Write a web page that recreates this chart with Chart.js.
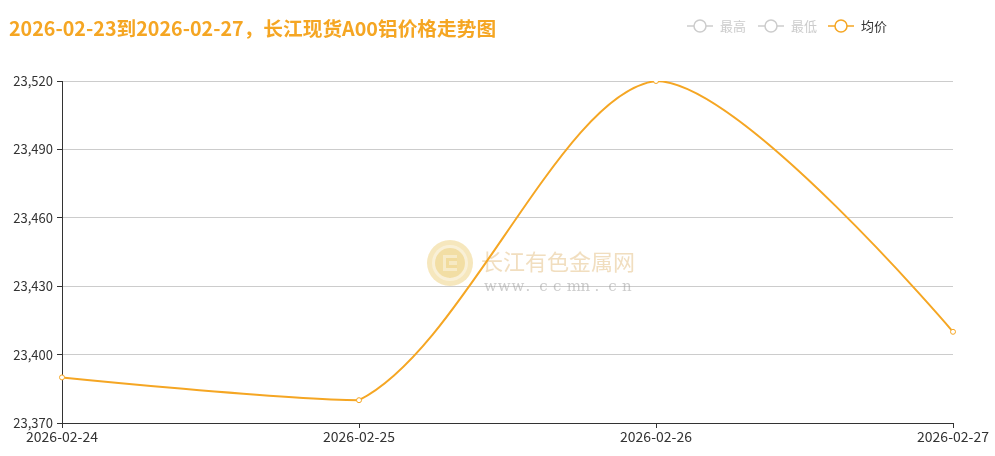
<!DOCTYPE html>
<html><head><meta charset="utf-8">
<script src="https://cdn.jsdelivr.net/npm/chart.js@4/dist/chart.umd.min.js"></script>
<style>html,body{margin:0;padding:0;background:#fff}#w{width:995px;height:456px}</style>
</head><body><div id="w"><canvas id="c" width="995" height="456"></canvas></div>
<script>
const titleText = '2026-02-23到2026-02-27，长江现货A00铝价格走势图';
const categories = ['2026-02-24','2026-02-25','2026-02-26','2026-02-27'];
const avgPrice = [23390, 23380, 23520, 23410];
const legendNames = ['最高','最低','均价'];
const legendActive = [false, false, true];
const yMin = 23370, yMax = 23520, yStep = 30;

const ORANGE = '#f5a623';
const FONT = '"Noto Sans CJK SC","Noto Sans",sans-serif';

// smoothing: control points clamped to the points' bounding box
const smoothPlugin = {
  id: 'smoothClamp',
  beforeDatasetDraw(chart, args) {
    const meta = args.meta;
    const line = meta.dataset;
    if (!line) return;
    line.updateControlPoints(chart.chartArea, 'x');
    const pts = meta.data;
    const n = pts.length;
    const xs = pts.map(p => p.x), ys = pts.map(p => p.y);
    const minX = Math.min(...xs), maxX = Math.max(...xs);
    const minY = Math.min(...ys), maxY = Math.max(...ys);
    const clamp = (v, a, b) => Math.max(a, Math.min(b, v));
    const s = 0.3;
    for (let i = 0; i < n; i++) {
      const p = pts[i];
      if (i === 0 || i === n - 1) {
        p.cp1x = p.x; p.cp1y = p.y; p.cp2x = p.x; p.cp2y = p.y;
        continue;
      }
      const a = pts[i - 1], b = pts[i + 1];
      const vx = (b.x - a.x) * s, vy = (b.y - a.y) * s;
      let d0 = Math.hypot(p.x - a.x, p.y - a.y), d1 = Math.hypot(p.x - b.x, p.y - b.y);
      const sum = d0 + d1; d0 /= sum; d1 /= sum;
      p.cp1x = clamp(p.x - vx * d0, minX, maxX);
      p.cp1y = clamp(p.y - vy * d0, minY, maxY);
      p.cp2x = clamp(p.x + vx * d1, minX, maxX);
      p.cp2y = clamp(p.y + vy * d1, minY, maxY);
    }
  }
};

const deco = {
  id: 'deco',
  beforeDatasetsDraw(chart) {
    const ctx = chart.ctx;
    ctx.save();
    const cx = 450, cy = 263;
    ctx.globalAlpha = 0.4;
    ctx.fillStyle = '#e8c25a';
    ctx.beginPath(); ctx.arc(cx, cy, 23, 0, Math.PI*2); ctx.fill();
    ctx.fillStyle = '#fff';
    ctx.beginPath(); ctx.arc(cx, cy, 18, 0, Math.PI*2); ctx.fill();
    ctx.fillStyle = '#e8c25a';
    ctx.beginPath(); ctx.arc(cx, cy, 15, 0, Math.PI*2); ctx.fill();
    ctx.fillStyle = '#fff';
    ctx.fillRect(cx-7, cy-8, 14, 16);
    ctx.fillStyle = '#e8c25a';
    ctx.fillRect(cx-4, cy-5, 11, 10);
    ctx.fillStyle = '#fff';
    ctx.fillRect(cx-1, cy-2, 8, 4);
    ctx.globalAlpha = 0.5;
    ctx.fillStyle = '#e3bd80';
    ctx.font = '22px ' + FONT;
    ctx.textBaseline = 'middle';
    ctx.textAlign = 'left';
    ctx.fillText('长江有色金属网', 481, 262);
    ctx.fillStyle = '#999';
    ctx.font = '15px "DejaVu Serif",serif';
    const s = 'www.ccmn.cn';
    let x = 484;
    for (const ch of s) { ctx.fillText(ch, x, 287); x += 13.8; }
    ctx.restore();
  },
  afterDraw(chart) {
    const ctx = chart.ctx;
    ctx.save();
    ctx.font = 'bold 19.7px ' + FONT;
    ctx.fillStyle = ORANGE;
    ctx.textBaseline = 'middle';
    ctx.textAlign = 'left';
    ctx.fillText(titleText, 9, 29);
    const starts = [687, 758, 828];
    ctx.font = '13px ' + FONT;
    legendNames.forEach((n, i) => {
      const col = legendActive[i] ? ORANGE : '#ccc';
      const x0 = starts[i], y = 26;
      ctx.strokeStyle = col; ctx.lineWidth = 1.5;
      ctx.beginPath(); ctx.moveTo(x0, y); ctx.lineTo(x0 + 26, y); ctx.stroke();
      ctx.fillStyle = '#fff';
      ctx.beginPath(); ctx.arc(x0 + 13, y, 6, 0, Math.PI*2); ctx.fill(); ctx.stroke();
      ctx.fillStyle = legendActive[i] ? '#333' : '#ccc';
      ctx.fillText(n, x0 + 33, y);
    });
    ctx.restore();
  }
};

new Chart(document.getElementById('c'), {
  type: 'line',
  data: {
    labels: categories,
    datasets: [{
      label: legendNames[2],
      data: avgPrice,
      borderColor: ORANGE,
      borderWidth: 2,
      backgroundColor: '#fff',
      pointBackgroundColor: '#fff',
      pointBorderColor: ORANGE,
      pointBorderWidth: 1,
      pointRadius: 2.5,
      tension: 0.3,
      fill: false
    }]
  },
  options: {
    responsive: false,
    animation: false,
    layout: { padding: { left: 0, right: 42, top: 81, bottom: 0 } },
    plugins: { legend: { display: false }, title: { display: false }, tooltip: { enabled: false } },
    scales: {
      x: {
        offset: false,
        grid: { display: true, drawOnChartArea: false, drawTicks: true, tickLength: 5, color: '#333' },
        border: { display: true, color: '#333', width: 1 },
        ticks: { color: '#333', font: { size: 14, family: FONT }, maxRotation: 0, autoSkip: false, padding: 0 },
        afterFit(s) { s.height = 33; }
      },
      y: {
        min: yMin, max: yMax,
        grid: { color: '#ccc', tickLength: 5, tickColor: '#333', drawTicks: true },
        border: { display: true, color: '#333', width: 1 },
        ticks: { stepSize: yStep, color: '#333', font: { size: 13, family: FONT }, padding: 4,
          callback: v => v.toLocaleString('en-US') },
        afterFit(s) { s.width = 62; }
      }
    }
  },
  plugins: [smoothPlugin, deco]
});
</script></body></html>
